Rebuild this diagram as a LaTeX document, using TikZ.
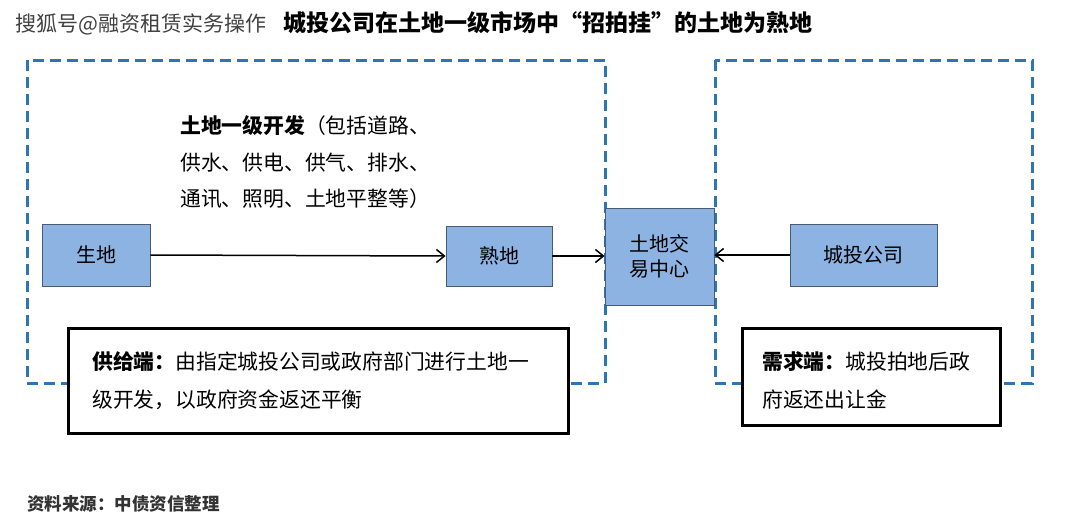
\documentclass[tikz,border=0pt]{standalone}
\usepackage{fontspec}
\setmainfont{Noto Sans CJK SC}
\usetikzlibrary{arrows.meta}
\definecolor{dblue}{HTML}{2E75B6}
\definecolor{lblue}{HTML}{8DB3E2}
\definecolor{bord}{HTML}{4A5A70}
\begin{document}
\begin{tikzpicture}[x=1pt,y=-1pt,
  dbox/.style={draw=dblue,line width=3pt,dash pattern=on 11pt off 6pt},
  land/.style={draw=bord,fill=lblue,line width=0.8pt,font=\fontsize{20}{25}\selectfont},
  note/.style={draw=black,fill=white,line width=3pt},
  txt/.style={anchor=base west,inner sep=0,font=\fontsize{20.8}{25}\selectfont},
  arr/.style={-{Straight Barb[length=8pt,width=13pt]},line width=1.5pt}]
\useasboundingbox (0,0) rectangle (1080,531);
\node[anchor=base west,inner sep=0,text=black!75,font=\fontsize{21}{25}\selectfont] (wm) at (15,31) {搜狐号@融资租赁实务操作};
\node[anchor=base west,inner sep=0,font=\fontsize{23}{27}\selectfont\bfseries] (title) at (283,31) {城投公司在土地一级市场中“招拍挂”的土地为熟地};
\draw[dbox] (27,60) rectangle (605,383);
\draw[dbox] (715,60) rectangle (1032,383);
\node[txt] (t1) at (180,133) {\textbf{土地一级开发}（包括道路、};
\node[txt] (t2) at (180,170) {供水、供电、供气、排水、};
\node[txt] (t3) at (180,206) {通讯、照明、土地平整等）};
\node[land,minimum width=108pt,minimum height=62pt] (sd) at (96,255) {生地};
\node[land,minimum width=106pt,minimum height=60pt] (sh) at (499,256) {熟地};
\node[land,minimum width=109pt,minimum height=97pt,align=center] (zx) at (659.5,256.5) {土地交\\易中心};
\node[land,minimum width=147pt,minimum height=62pt] (ct) at (863.5,255) {城投公司};
\draw[arr] (sd.east) -- (sh.west);
\draw[arr] (sh.east) -- (sh.east -| zx.west);
\draw[arr] (ct.west) -- (ct.west -| zx.east);
\node[note,minimum width=500pt,minimum height=105pt] (gj) at (318,380.5) {};
\node[txt] (g1) at (92,369) {\textbf{供给端：}由指定城投公司或政府部门进行土地一};
\node[txt] (g2) at (92,407) {级开发，以政府资金返还平衡};
\node[note,minimum width=258pt,minimum height=97pt] (xq) at (871,376.5) {};
\node[txt] (x1) at (762,369) {\textbf{需求端：}城投拍地后政};
\node[txt] (x2) at (762,407) {府返还出让金};
\node[anchor=base west,inner sep=0,font=\fontsize{17.5}{20}\selectfont\bfseries,text=black!80] (src) at (27,510) {资料来源：中债资信整理};
\end{tikzpicture}
\end{document}
